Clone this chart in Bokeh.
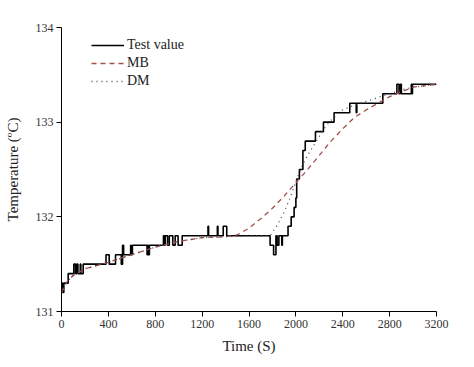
from bokeh.plotting import figure
from bokeh.models import Range1d, FixedTicker, Legend, LegendItem
from bokeh.embed import file_html
from bokeh.resources import INLINE

# Test value (step series, value held from each time until the next)
test_t = [0, 5, 10, 20, 57, 105, 120, 130, 140, 160, 165, 185, 380, 407, 461, 510, 521, 530,
          590, 595, 605, 730, 735, 740, 750, 870, 880, 885, 905, 920, 950, 970, 995, 1030,
          1250, 1255, 1330, 1335, 1380, 1410, 1780, 1810, 1830, 1840, 1855, 1880, 1885,
          1933, 1960, 1985, 2000, 2007, 2030, 2060, 2080, 2167, 2235, 2326, 2460, 2515, 2520,
          2742, 2862, 2880, 2890, 2900, 2985, 2990, 2995, 3200]
test_v = [131.2, 131.3, 131.2, 131.3, 131.4, 131.5, 131.4, 131.5, 131.4, 131.5, 131.4, 131.5,
          131.6, 131.5, 131.6, 131.5, 131.7, 131.6, 131.7, 131.6, 131.7, 131.6, 131.7, 131.6,
          131.7, 131.8, 131.7, 131.8, 131.7, 131.8, 131.7, 131.8, 131.7, 131.8, 131.9, 131.8,
          131.9, 131.8, 131.9, 131.8, 131.7, 131.6, 131.8, 131.7, 131.8, 131.7, 131.8, 131.9,
          132.0, 132.1, 132.2, 132.4, 132.5, 132.7, 132.8, 132.9, 133.0, 133.1, 133.2, 133.1,
          133.2, 133.3, 133.4, 133.3, 133.4, 133.3, 133.4, 133.3, 133.4, 133.4]

# MB model
mb_t = [0, 50, 100, 200, 400, 600, 800, 1000, 1200, 1400, 1500, 1600, 1700, 1800, 1900, 2000,
        2100, 2200, 2300, 2400, 2500, 2600, 2700, 2800, 2900, 3000, 3200]
mb_v = [131.2, 131.32, 131.38, 131.45, 131.52, 131.6, 131.68, 131.74, 131.78, 131.79, 131.81,
        131.88, 131.98, 132.09, 132.22, 132.36, 132.5, 132.65, 132.8, 132.93, 133.05, 133.13,
        133.2, 133.27, 133.32, 133.37, 133.4]

# DM model
dm_t = [0, 50, 100, 200, 400, 600, 800, 1000, 1200, 1400, 1600, 1780, 1850, 1900, 1950, 2000,
        2050, 2100, 2150, 2200, 2250, 2300, 2350, 2400, 2500, 2600, 2700, 2800, 2900, 3000, 3200]
dm_v = [131.2, 131.32, 131.38, 131.45, 131.52, 131.6, 131.68, 131.74, 131.78, 131.79, 131.8,
        131.8, 131.93, 132.05, 132.2, 132.37, 132.53, 132.65, 132.75, 132.85, 132.95, 133.02,
        133.08, 133.13, 133.18, 133.22, 133.26, 133.3, 133.34, 133.37, 133.4]

x_ticks = [0, 400, 800, 1200, 1600, 2000, 2400, 2800, 3200]
y_ticks = [131, 132, 133, 134]

FONT = "Liberation Serif"

p = figure(width=458, height=358, output_backend="svg", toolbar_location=None,
           x_range=Range1d(0, 3200), y_range=Range1d(131, 134),
           min_border_left=61, min_border_right=22, min_border_top=27, min_border_bottom=47)
p.outline_line_color = None
p.xgrid.visible = False
p.ygrid.visible = False

r_test = p.step(test_t, test_v, mode="after", line_color="black", line_width=1.6)
r_mb = p.line(mb_t, mb_v, line_color="#a4504a", line_width=1.3, line_dash="5 4")
r_dm = p.line(dm_t, dm_v, line_color="#4a4a5a", line_width=1.3, line_dash="1 4")

for ax in (p.xaxis[0], p.yaxis[0]):
    ax.major_tick_in = 0
    ax.major_tick_out = 5
    ax.minor_tick_line_color = None
    ax.axis_line_color = "black"
    ax.major_tick_line_color = "black"
    ax.major_label_standoff = 3
    ax.major_label_text_font = FONT
    ax.major_label_text_font_size = "12px"
    ax.major_label_text_color = "#333333"
    ax.axis_label_text_font = FONT
    ax.axis_label_text_font_style = "normal"
    ax.axis_label_text_color = "#222222"

p.xaxis.axis_label_text_font_size = "15px"
p.yaxis.axis_label_text_font_size = "15px"
p.xaxis.ticker = FixedTicker(ticks=x_ticks)
p.yaxis.ticker = FixedTicker(ticks=y_ticks)
p.xaxis.axis_label = "Time (S)"
p.yaxis.axis_label = "Temperature (ºC)"
p.xaxis.axis_label_standoff = 7
p.yaxis.axis_label_standoff = 12

legend = Legend(items=[LegendItem(label="Test value", renderers=[r_test]),
                       LegendItem(label="MB", renderers=[r_mb]),
                       LegendItem(label="DM", renderers=[r_dm])],
                location=(30, 222))
legend.border_line_color = None
legend.background_fill_alpha = 0
legend.label_text_font = FONT
legend.label_text_font_size = "14px"
legend.label_text_color = "#222222"
legend.glyph_width = 33
legend.glyph_height = 16
legend.label_height = 16
legend.spacing = 2
legend.padding = 5
legend.margin = 0
legend.label_standoff = 3
p.add_layout(legend, "center")

open("out.html", "w").write(file_html(p, INLINE))
